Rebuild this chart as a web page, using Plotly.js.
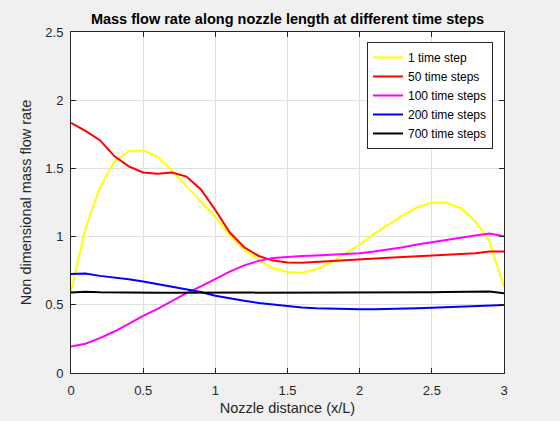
<!DOCTYPE html>
<html>
<head>
<meta charset="utf-8">
<script src="https://cdn.plot.ly/plotly-3.0.1.min.js"></script>
<style>
  html, body { margin: 0; padding: 0; background: #f0f0f0; }
  #chart { width: 560px; height: 421px; }
</style>
</head>
<body>
<div id="chart"></div>
<script>
// Nozzle grid points (x/L)
const xGrid = [0,0.1,0.2,0.3,0.4,0.5,0.6,0.7,0.8,0.9,1.0,1.1,1.2,1.3,1.4,1.5,1.6,1.7,1.8,1.9,2.0,2.1,2.2,2.3,2.4,2.5,2.6,2.7,2.8,2.9,3.0];

const seriesNames = ['1 time step','50 time steps','100 time steps','200 time steps','700 time steps'];

const step1 = [0.60,1.06,1.36,1.55,1.626,1.633,1.585,1.485,1.37,1.26,1.145,1.01,0.905,0.829,0.768,0.74,0.735,0.76,0.81,0.875,0.94,1.02,1.09,1.158,1.215,1.25,1.248,1.21,1.115,0.963,0.63];
const step50 = [1.833,1.775,1.707,1.59,1.515,1.47,1.46,1.47,1.44,1.345,1.195,1.03,0.922,0.858,0.824,0.81,0.808,0.815,0.822,0.828,0.834,0.84,0.845,0.85,0.855,0.86,0.866,0.872,0.878,0.89,0.89];
const step100 = [0.195,0.215,0.256,0.304,0.36,0.419,0.47,0.527,0.585,0.635,0.688,0.743,0.789,0.822,0.843,0.853,0.858,0.862,0.866,0.872,0.878,0.89,0.905,0.922,0.942,0.96,0.975,0.992,1.008,1.022,1.003];
const step200 = [0.726,0.729,0.712,0.702,0.687,0.67,0.652,0.633,0.614,0.594,0.567,0.547,0.529,0.514,0.502,0.489,0.481,0.475,0.471,0.469,0.468,0.468,0.469,0.472,0.475,0.478,0.482,0.487,0.492,0.497,0.498];
const step700 = [0.59,0.596,0.592,0.59,0.589,0.588,0.588,0.588,0.588,0.588,0.587,0.587,0.587,0.587,0.587,0.587,0.588,0.588,0.589,0.589,0.59,0.59,0.591,0.591,0.592,0.592,0.593,0.594,0.595,0.597,0.585];

const seriesColors = ['#ffff00','#ff0000','#ff00ff','#0000ff','#000000'];
const seriesValues = [step1, step50, step100, step200, step700];

const xTicks = [0,0.5,1,1.5,2,2.5,3];
const xTickLabels = ['0','0.5','1','1.5','2','2.5','3'];
const yTicks = [0,0.5,1,1.5,2,2.5];
const yTickLabels = ['0','0.5','1','1.5','2','2.5'];

const FONT = '"Liberation Sans", Arial, Helvetica, sans-serif';
const AXC = '#262626';

const traces = seriesValues.map((vals, i) => ({
  x: xGrid,
  y: vals,
  type: 'scatter',
  mode: 'lines',
  name: seriesNames[i],
  line: { color: seriesColors[i], width: 2 }
}));

const axisCommon = {
  showline: true,
  linecolor: AXC,
  linewidth: 1,
  mirror: 'ticks',
  ticks: 'inside',
  ticklen: 5,
  tickwidth: 1,
  tickcolor: AXC,
  showgrid: true,
  gridcolor: '#e0e0e0',
  gridwidth: 1,
  zeroline: false,
  tickfont: { family: FONT, size: 13, color: AXC }
};

const layout = {
  width: 560,
  height: 421,
  paper_bgcolor: '#f0f0f0',
  plot_bgcolor: '#ffffff',
  margin: { l: 71, r: 56, t: 32, b: 48, pad: 0 },
  title: {
    text: '<b>Mass flow rate along nozzle length at different time steps</b>',
    font: { family: FONT, size: 14.5, color: '#000000' },
    x: 0.5, xref: 'paper',
    y: 1 - 19 / 421, yref: 'container', yanchor: 'middle'
  },
  xaxis: Object.assign({}, axisCommon, {
    range: [0, 3],
    tickvals: xTicks,
    ticktext: xTickLabels,
    ticklabelstandoff: 5,
    title: { text: 'Nozzle distance (x/L)', font: { family: FONT, size: 14.5, color: AXC }, standoff: 6 }
  }),
  yaxis: Object.assign({}, axisCommon, {
    range: [0, 2.5],
    tickvals: yTicks,
    ticktext: yTickLabels,
    ticklabelstandoff: 4,
    title: { text: 'Non dimensional mass flow rate', font: { family: FONT, size: 14.5, color: AXC }, standoff: 10 }
  }),
  legend: {
    x: 0.9746, y: 0.9707, xanchor: 'right', yanchor: 'top',
    bgcolor: '#ffffff',
    bordercolor: AXC,
    borderwidth: 1,
    font: { family: FONT, size: 12, color: '#000000' },
    itemwidth: 30,
    tracegroupgap: 0
  },
  showlegend: true
};

Plotly.newPlot('chart', traces, layout, { staticPlot: true, displayModeBar: false });
</script>
</body>
</html>
